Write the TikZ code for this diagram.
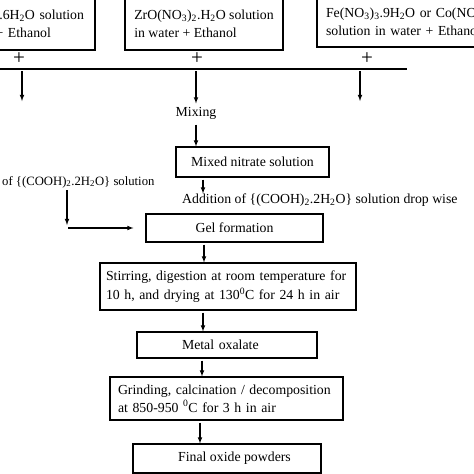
\documentclass[tikz,border=0pt]{standalone}
\usepackage{fontspec}
\setmainfont{Liberation Serif}
\usetikzlibrary{arrows.meta}
\tikzset{>=stealth}
\tikzset{box/.style={draw, line width=1.1pt, inner ysep=0pt, align=left}}
\tikzset{flow/.style={-latex, line width=1.1pt, shorten <=2pt}}
\tikzset{toptext/.style={font=\fontsize{13.8}{18}\selectfont}}
\tikzset{plus/.style={font=\fontsize{21}{21}\selectfont, inner sep=0pt}}

\begin{document}
\begin{tikzpicture}[x=1pt,y=-1pt,font=\fontsize{13.8}{16.5}\selectfont]
        \useasboundingbox (0,0) rectangle (474,474);
        \clip (0,0) rectangle (474,474);
        % starting solutions
        \node[box, toptext, inner xsep=10pt, text width=140pt, minimum height=52pt] (lanit) at (15,24) {La(NO\textsubscript{3})\textsubscript{3}.6H\textsubscript{2}O solution\\in water + Ethanol};
        \node[box, toptext, inner xsep=0pt, minimum width=158pt, minimum height=52pt] (zrnit) at (204,24) {ZrO(NO\textsubscript{3})\textsubscript{2}.H\textsubscript{2}O solution\\in water + Ethanol};
        \node[box, toptext, inner xsep=9pt, text width=212pt, minimum height=50pt] (fenit) at (432,22) {Fe(NO\textsubscript{3})\textsubscript{3}.9H\textsubscript{2}O or Co(NO\textsubscript{3})\textsubscript{2}.6H\textsubscript{2}O\\solution in water + Ethanol};
        \node[plus] (plusL) at (19,59) {+};
        \node[plus] (plusM) at (197,59) {+};
        \node[plus] (plusR) at (367,59) {+};
        \coordinate (barL) at (-5,69);
        \coordinate (barR) at (407,69);
        \draw[line width=1.1pt] (barL) -- (barR);
        \coordinate (dropL) at (22,101);
        \coordinate (dropR) at (360,101);
        \node (mixing) at (196,113) {Mixing};
        \draw[flow] (barL -| dropL) -- (dropL);
        \draw[flow] (barL -| dropR) -- (dropR);
        \draw[flow] (barL -| mixing.north) -- (mixing.north);
        % mixing and gel
        \node[box, minimum width=153pt, minimum height=30pt] (mixed) at (252.5,162) {Mixed nitrate solution};
        \draw[flow] (mixing.south) -- (mixing.south |- mixed.north);
        \node[anchor=west, inner sep=0pt] (addition) at (182,200) {Addition of \{(COOH)\textsubscript{2}.2H\textsubscript{2}O\} solution drop wise};
        \draw[flow] ([xshift=-49.5pt]mixed.south) -- ([xshift=-49.5pt]mixed.south |- addition.north);
        \node[anchor=west, inner sep=0pt, font=\fontsize{12.7}{15}\selectfont] (sideadd) at (2,182) {of \{(COOH)\textsubscript{2}.2H\textsubscript{2}O\} solution};
        \node[box, minimum width=177pt, minimum height=28pt] (gel) at (234.5,228) {Gel formation};
        \coordinate (turn) at (67,225);
        \coordinate (feed) at (68,228);
        \draw[flow] (sideadd.south -| turn) -- (turn);
        \draw[-latex, line width=1.1pt] (feed) -- ([xshift=-12pt]gel.west);
        % processing steps
        \node[box, inner xsep=6pt, text width=244pt, minimum height=47pt, font=\fontsize{13.8}{19.5}\selectfont] (stir) at (228,286.5) {Stirring, digestion at room temperature for\\10 h, and drying at 130\textsuperscript{0}C for 24 h in air};
        \node[box, inner xsep=45pt, text width=90pt, minimum height=26pt] (oxalate) at (227,345) {Metal oxalate};
        \node[box, inner xsep=8pt, text width=217pt, minimum height=43pt, font=\fontsize{13.8}{18}\selectfont] (grind) at (226.5,398.5) {Grinding, calcination / decomposition\\at 850-950 \textsuperscript{0}C for 3 h in air};
        \node[box, inner xsep=0pt, minimum width=188pt, minimum height=29pt] (final) at (227,458.5) {\hspace*{15pt}Final oxide powders};
        \draw[flow] ([xshift=-30.5pt]gel.south) -- ([xshift=-30.5pt]gel.south |- stir.north);
        \draw[flow] ([xshift=-25pt]stir.south) -- ([xshift=-25pt]stir.south |- oxalate.north);
        \draw[flow] ([xshift=-25pt]oxalate.south) -- ([xshift=-25pt]oxalate.south |- grind.north);
        \draw[flow] ([xshift=-26.5pt]grind.south) -- ([xshift=-26.5pt]grind.south |- final.north);
      \end{tikzpicture}
\end{document}
